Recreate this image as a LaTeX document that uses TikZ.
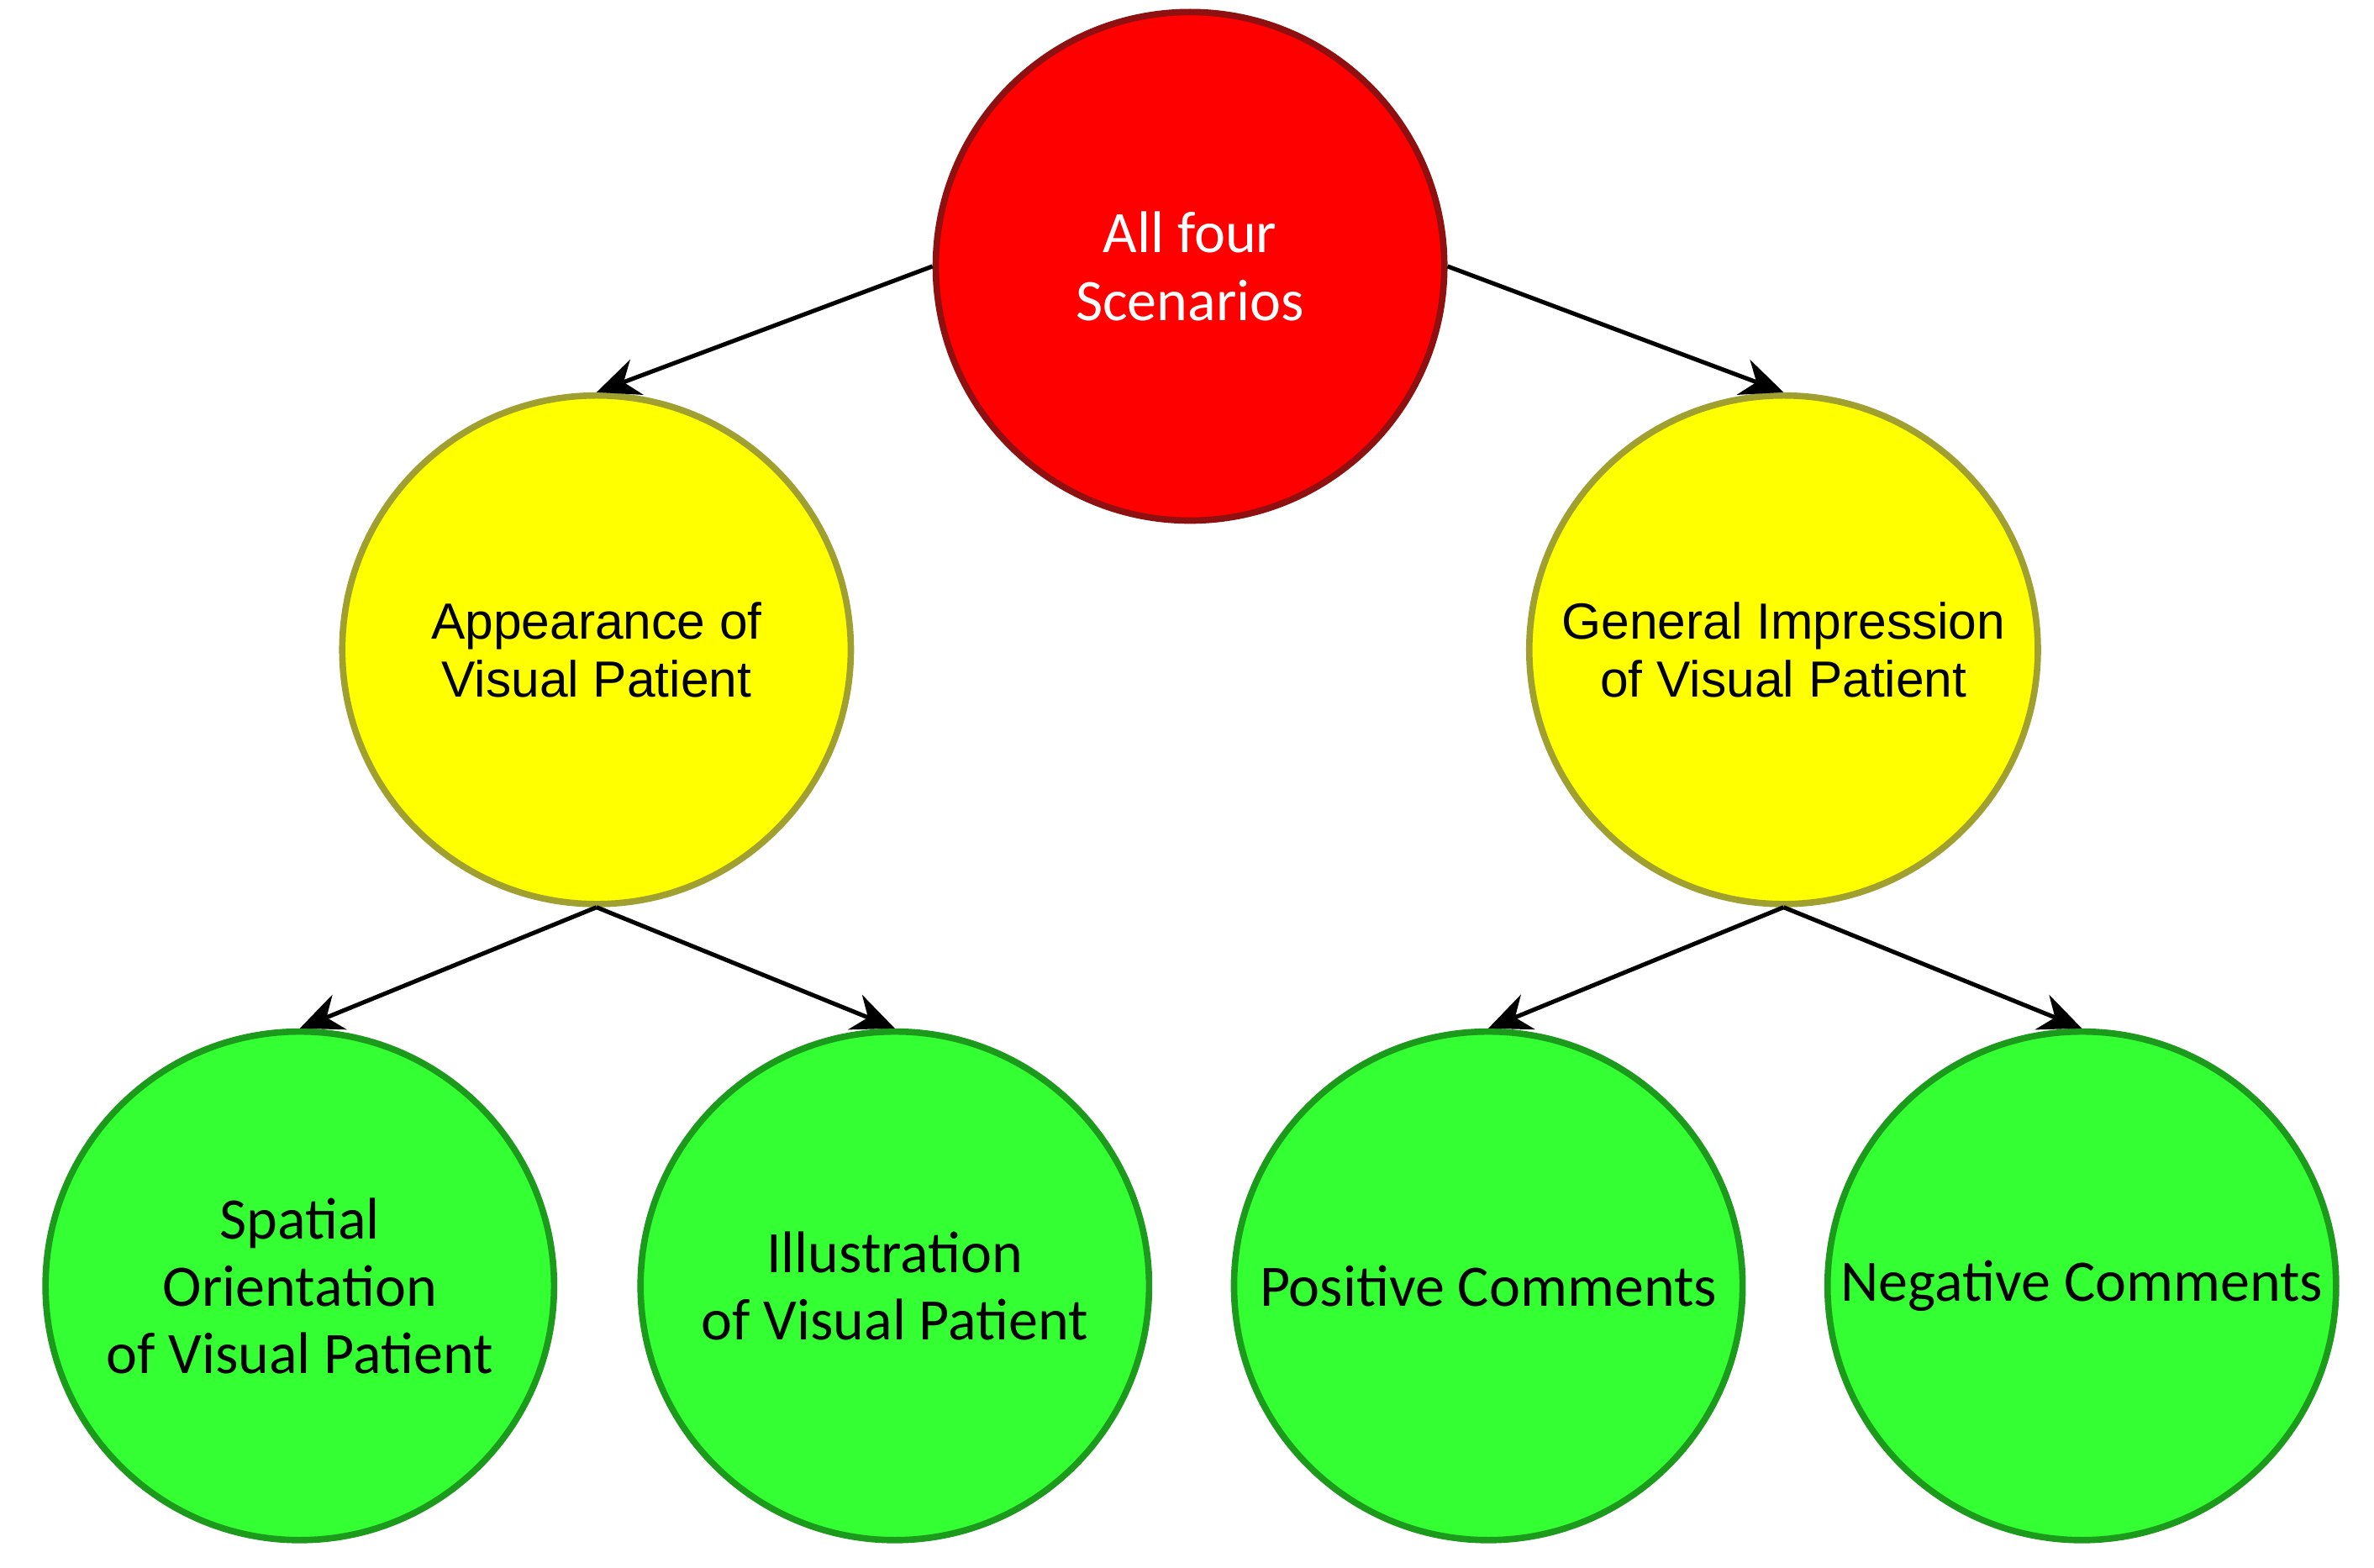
\documentclass[tikz,border=0pt]{standalone}
\usepackage{fontspec}
\setmainfont{Carlito}
\newfontfamily\arialf{Liberation Sans}
\usetikzlibrary{arrows.meta}
\definecolor{redfill}{HTML}{FF0000}
\definecolor{redline}{HTML}{8E1010}
\definecolor{yelfill}{HTML}{FFFF00}
\definecolor{yelline}{HTML}{A0A030}
\definecolor{grnfill}{HTML}{33FF33}
\definecolor{grnline}{HTML}{1C9A1C}
\begin{document}
\begin{tikzpicture}[x=0.01cm,y=-0.01cm,
  bubble/.style={circle, minimum size=3.34cm, inner sep=0pt, align=center, line width=1.2pt},
  top/.style={bubble, draw=redline, fill=redfill, text=white, font=\fontsize{11}{12.8}\selectfont},
  mid/.style={bubble, draw=yelline, fill=yelfill, font=\arialf\fontsize{9.5}{10.8}\selectfont},
  leaf/.style={bubble, draw=grnline, fill=grnfill, font=\fontsize{11}{12.6}\selectfont},
  arrow/.style={line width=0.8pt, -{Stealth[length=8pt,width=7pt]}}]
\useasboundingbox (0,0) rectangle (1560,1030);
\node (r) [top] at (782,175) {All four\\Scenarios};
\node (yl) [mid] at (392,427) {Appearance of\\Visual Patient};
\node (yr) [mid] at (1172,427) {General Impression\\of Visual Patient};
\node (g1) [leaf] at (197,845) {Spatial\\Orientation\\of Visual Patient};
\node (g2) [leaf] at (588,845) {Illustration\\of Visual Patient};
\node (g3) [leaf] at (978,845) {Positive Comments};
\node (g4) [leaf] at (1368,845) {Negative Comments};
\draw [arrow] (r.west) -- (yl.north);
\draw [arrow] (r.east) -- (yr.north);
\draw [arrow] (yl.south) -- (g1.north);
\draw [arrow] (yl.south) -- (g2.north);
\draw [arrow] (yr.south) -- (g3.north);
\draw [arrow] (yr.south) -- (g4.north);
\end{tikzpicture}
\end{document}
